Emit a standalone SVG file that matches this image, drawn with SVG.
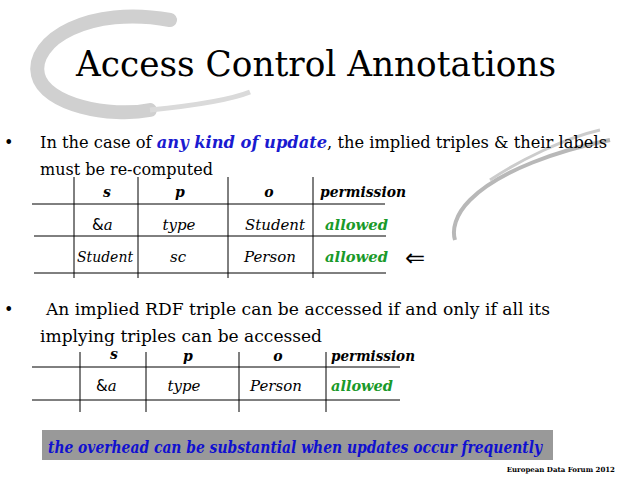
<svg xmlns="http://www.w3.org/2000/svg" width="638" height="478" viewBox="0 0 638 478" font-family="'DejaVu Serif', 'Liberation Serif', serif">
<style>
.b{font-size:16px}
.h{font-size:14px;font-style:italic;font-weight:bold}
.c{font-size:15px;font-style:italic}
.g{font-size:15px;font-style:italic;font-weight:bold;fill:#1a9a2a}
line{stroke:#000;stroke-width:1}
</style>
<rect width="638" height="478" fill="#fff"/>
<g id="deco" fill="none">
<path d="M170 20 C90 5 30 40 38 75 C45 105 110 118 150 110" stroke="#d0d0d0" stroke-width="14" stroke-linecap="round"/>
<path d="M150 110 C200 105 230 100 250 92" stroke="#dadada" stroke-width="5"/>
<path d="M610 140 C560 150 500 170 470 200 C455 215 452 230 455 240" stroke="#b8b8b8" stroke-width="4"/>
<path d="M600 130 C565 138 520 160 490 180" stroke="#cccccc" stroke-width="3"/>
</g>
<text x="76" y="76" font-size="36" textLength="480" lengthAdjust="spacingAndGlyphs">Access Control Annotations</text>
<text x="4" y="148" class="b">•</text>
<text x="40" y="148" class="b" textLength="567" lengthAdjust="spacingAndGlyphs">In the case of <tspan font-style="italic" font-weight="bold" fill="#1a1ad0">any kind of update</tspan>, the implied triples &amp; their labels</text>
<text x="40" y="175" class="b">must be re-computed</text>
<g id="table1">
<line x1="32" y1="204" x2="385" y2="204"/><line x1="34" y1="236" x2="386" y2="236"/><line x1="34" y1="273" x2="386" y2="273"/>
<line x1="74" y1="177" x2="74" y2="278"/><line x1="138" y1="177" x2="138" y2="278"/><line x1="228" y1="177" x2="228" y2="278"/><line x1="313" y1="177" x2="313" y2="278"/>
<text x="107" y="197" class="h" text-anchor="middle">s</text>
<text x="180" y="197" class="h" text-anchor="middle">p</text>
<text x="269" y="197" class="h" text-anchor="middle">o</text>
<text x="320" y="197" class="h" textLength="86" lengthAdjust="spacingAndGlyphs">permission</text>
<text x="92" y="230" class="c"><tspan font-style="normal" font-family="DejaVu Sans">&amp;</tspan>a</text>
<text x="179" y="230" class="c" text-anchor="middle">type</text>
<text x="275" y="230" class="c" text-anchor="middle">Student</text>
<text x="325" y="230" class="g" textLength="63" lengthAdjust="spacingAndGlyphs">allowed</text>
<text x="105" y="262" class="c" text-anchor="middle" textLength="56" lengthAdjust="spacingAndGlyphs">Student</text>
<text x="178" y="262" class="c" text-anchor="middle">sc</text>
<text x="270" y="262" class="c" text-anchor="middle">Person</text>
<text x="325" y="262" class="g" textLength="63" lengthAdjust="spacingAndGlyphs">allowed</text>
<text x="405" y="266" font-size="24" font-family="DejaVu Sans">⇐</text>
</g>
<text x="4" y="315" class="b">•</text>
<text x="46" y="315" class="b" textLength="504" lengthAdjust="spacingAndGlyphs">An implied RDF triple can be accessed if and only if all  its</text>
<text x="40" y="342" class="b" textLength="282" lengthAdjust="spacingAndGlyphs">implying triples can be accessed</text>
<g id="table2">
<line x1="32" y1="367" x2="400" y2="367"/><line x1="32" y1="400" x2="400" y2="400"/>
<line x1="80" y1="352" x2="80" y2="412"/><line x1="146" y1="352" x2="146" y2="412"/><line x1="239" y1="352" x2="239" y2="412"/><line x1="326" y1="352" x2="326" y2="412"/>
<text x="114" y="359" class="h" text-anchor="middle">s</text>
<text x="188" y="361" class="h" text-anchor="middle">p</text>
<text x="278" y="361" class="h" text-anchor="middle">o</text>
<text x="331" y="361" class="h" textLength="84" lengthAdjust="spacingAndGlyphs">permission</text>
<text x="96" y="391" class="c"><tspan font-style="normal" font-family="DejaVu Sans">&amp;</tspan>a</text>
<text x="184" y="391" class="c" text-anchor="middle">type</text>
<text x="276" y="391" class="c" text-anchor="middle">Person</text>
<text x="331" y="391" class="g" textLength="62" lengthAdjust="spacingAndGlyphs">allowed</text>
</g>
<g id="note">
<rect x="42" y="430" width="511" height="30" fill="#999999"/>
<text x="48" y="453" font-size="16" font-style="italic" font-weight="bold" fill="#1010d0" textLength="494" lengthAdjust="spacingAndGlyphs">the overhead can be substantial when updates occur frequently</text>
</g>
<text x="615" y="472" font-size="7" font-weight="bold" text-anchor="end">European Data Forum 2012</text>
</svg>
